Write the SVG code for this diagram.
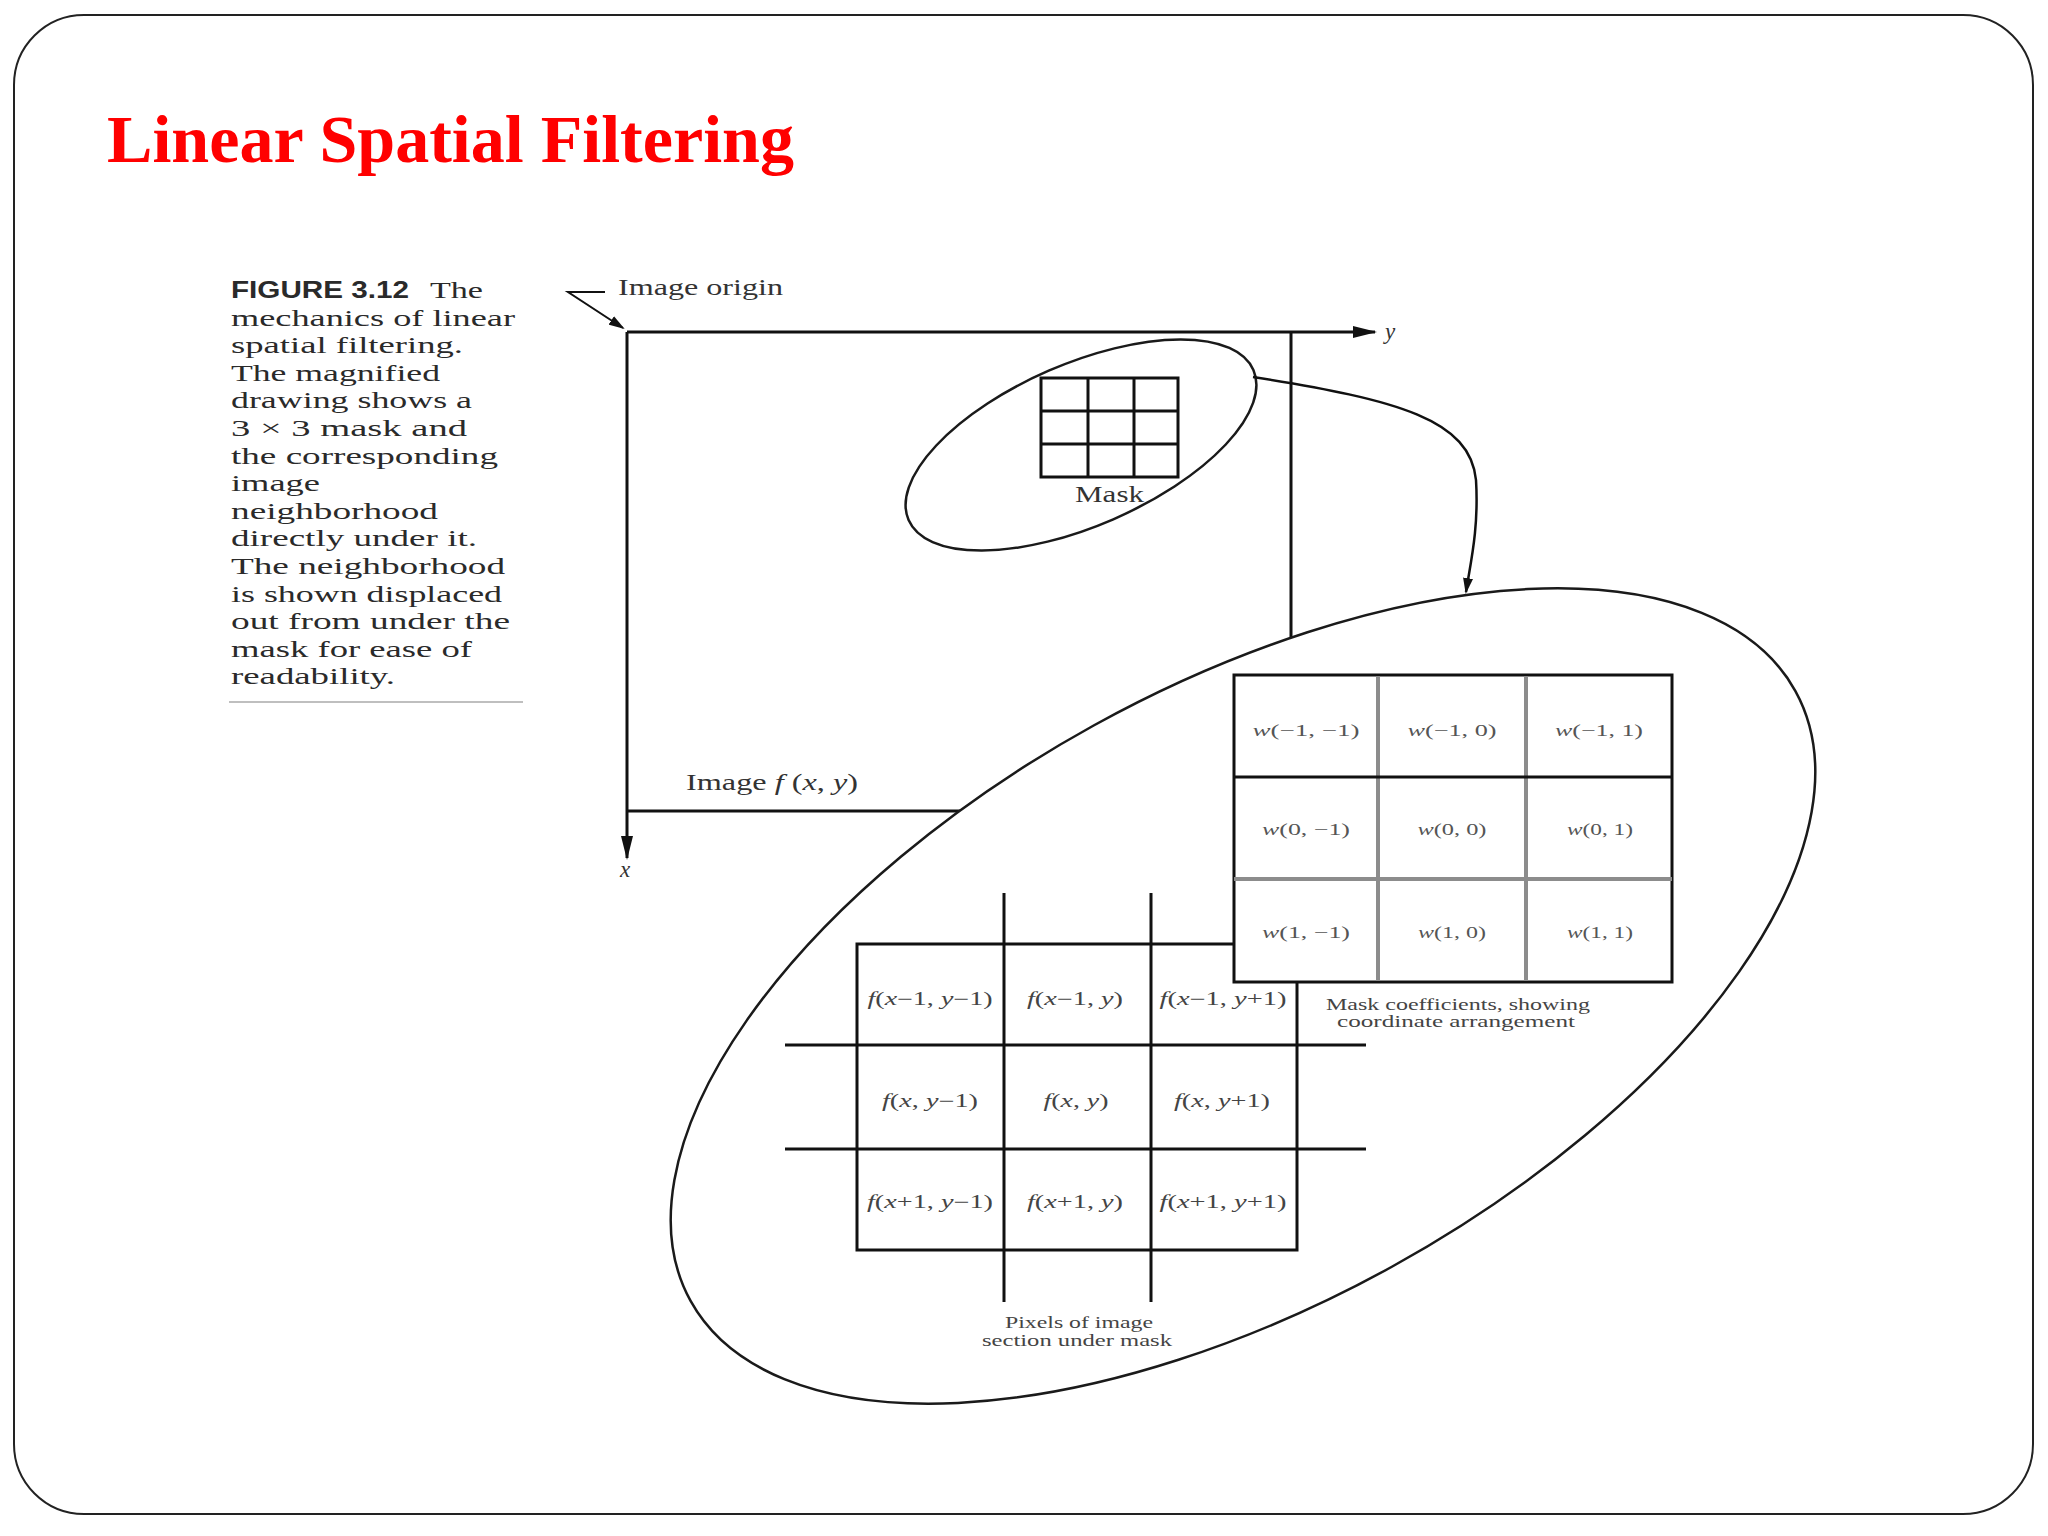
<svg xmlns="http://www.w3.org/2000/svg" width="2048" height="1536" viewBox="0 0 2048 1536">
<defs>
<style>
.cap{font-family:"Liberation Serif",serif;font-size:24px;fill:#2a2a2a;}
.lbl{font-family:"Liberation Serif",serif;font-size:23px;fill:#333;}
.cell{font-family:"Liberation Serif",serif;font-size:17px;fill:#555;text-anchor:middle;}
.pix{font-family:"Liberation Serif",serif;font-size:18px;fill:#444;text-anchor:middle;}
.note{font-family:"Liberation Serif",serif;font-size:16px;fill:#444;text-anchor:middle;}
.it{font-style:italic;}
.ln{stroke:#111;stroke-width:3;fill:none;}
.thin{stroke:#1a1a1a;stroke-width:2.5;}
</style>
<marker id="ah" markerWidth="24" markerHeight="12" refX="22" refY="6" orient="auto" markerUnits="userSpaceOnUse"><path d="M0,0 L24,6 L0,12 z" fill="#111"/></marker>
<marker id="ahs" markerWidth="16" markerHeight="10" refX="14" refY="5" orient="auto" markerUnits="userSpaceOnUse"><path d="M0,0 L16,5 L0,10 z" fill="#111"/></marker>
</defs>
<rect x="0" y="0" width="2048" height="1536" fill="#ffffff"/>
<rect id="frame" x="14" y="15" width="2019" height="1499" rx="70" ry="70" fill="none" stroke="#222" stroke-width="2"/>

<g id="title">
<text x="107" y="162" font-family="'Liberation Serif',serif" font-weight="bold" font-size="68" fill="#ff0000" textLength="687" lengthAdjust="spacingAndGlyphs">Linear Spatial Filtering</text>
</g>

<g id="caption">
<text x="231" y="298" font-family="'Liberation Sans',sans-serif" font-weight="bold" font-size="23" fill="#2a2a2a" textLength="178" lengthAdjust="spacingAndGlyphs">FIGURE 3.12</text>
<text class="cap" x="430" y="298" textLength="53" lengthAdjust="spacingAndGlyphs">The</text>
<text class="cap" x="231" y="325.6" textLength="284" lengthAdjust="spacingAndGlyphs">mechanics of linear</text>
<text class="cap" x="231" y="353.2" textLength="232" lengthAdjust="spacingAndGlyphs">spatial filtering.</text>
<text class="cap" x="231" y="380.8" textLength="209" lengthAdjust="spacingAndGlyphs">The magnified</text>
<text class="cap" x="231" y="408.4" textLength="241" lengthAdjust="spacingAndGlyphs">drawing shows a</text>
<text class="cap" x="231" y="436" textLength="236" lengthAdjust="spacingAndGlyphs">3 × 3 mask and</text>
<text class="cap" x="231" y="463.6" textLength="267" lengthAdjust="spacingAndGlyphs">the corresponding</text>
<text class="cap" x="231" y="491.2" textLength="89" lengthAdjust="spacingAndGlyphs">image</text>
<text class="cap" x="231" y="518.8" textLength="207" lengthAdjust="spacingAndGlyphs">neighborhood</text>
<text class="cap" x="231" y="546.4" textLength="246" lengthAdjust="spacingAndGlyphs">directly under it.</text>
<text class="cap" x="231" y="574" textLength="274" lengthAdjust="spacingAndGlyphs">The neighborhood</text>
<text class="cap" x="231" y="601.6" textLength="271" lengthAdjust="spacingAndGlyphs">is shown displaced</text>
<text class="cap" x="231" y="629.2" textLength="279" lengthAdjust="spacingAndGlyphs">out from under the</text>
<text class="cap" x="231" y="656.8" textLength="241" lengthAdjust="spacingAndGlyphs">mask for ease of</text>
<text class="cap" x="231" y="684.4" textLength="164" lengthAdjust="spacingAndGlyphs">readability.</text>
<line x1="229" y1="702" x2="523" y2="702" stroke="#aaa" stroke-width="1.5"/>
</g>

<g id="image-axes">
<line class="ln" x1="627" y1="332" x2="1375" y2="332" marker-end="url(#ah)"/>
<line class="ln" x1="627" y1="332" x2="627" y2="858" marker-end="url(#ah)"/>
<line class="ln" x1="1291" y1="332" x2="1291" y2="720"/>
<line class="ln" x1="627" y1="811" x2="1010" y2="811"/>
<text class="lbl" x="618" y="295" textLength="165" lengthAdjust="spacingAndGlyphs">Image origin</text>
<text class="lbl it" x="1385" y="339" font-size="24">y</text>
<text class="lbl it" x="620" y="877" font-size="22">x</text>
<text class="lbl" x="686" y="790" textLength="172" lengthAdjust="spacingAndGlyphs">Image <tspan class="it">f</tspan> (<tspan class="it">x</tspan>, <tspan class="it">y</tspan>)</text>
</g>

<g id="mask-ellipse">
<ellipse cx="1081" cy="445" rx="188" ry="81" transform="rotate(-23.5 1081 445)" fill="none" class="thin" stroke="#1a1a1a"/>
<g id="mask-grid">
<rect class="ln" x="1041" y="378" width="137" height="99"/>
<line class="ln" x1="1088" y1="378" x2="1088" y2="477"/>
<line class="ln" x1="1134" y1="378" x2="1134" y2="477"/>
<line class="ln" x1="1041" y1="411" x2="1178" y2="411"/>
<line class="ln" x1="1041" y1="444" x2="1178" y2="444"/>
</g>
<text class="lbl" x="1075" y="502" textLength="69" lengthAdjust="spacingAndGlyphs">Mask</text>
</g>

<g id="zoom-ellipse">
<ellipse cx="1243" cy="996" rx="631" ry="309" transform="rotate(-28.9 1243 996)" fill="#ffffff" stroke="#1a1a1a" stroke-width="2.5"/>
</g>

<g id="pixel-grid">
<rect class="ln" x="857" y="944" width="440" height="306"/>
<line class="ln" x1="1004" y1="893" x2="1004" y2="1302"/>
<line class="ln" x1="1151" y1="893" x2="1151" y2="1302"/>
<line class="ln" x1="785" y1="1045" x2="1366" y2="1045"/>
<line class="ln" x1="785" y1="1149" x2="1366" y2="1149"/>
<text class="pix" x="930" y="1005" textLength="125" lengthAdjust="spacingAndGlyphs"><tspan class="it">f</tspan>(<tspan class="it">x</tspan>−1, <tspan class="it">y</tspan>−1)</text>
<text class="pix" x="1075" y="1005" textLength="96" lengthAdjust="spacingAndGlyphs"><tspan class="it">f</tspan>(<tspan class="it">x</tspan>−1, <tspan class="it">y</tspan>)</text>
<text class="pix" x="1223" y="1005" textLength="127" lengthAdjust="spacingAndGlyphs"><tspan class="it">f</tspan>(<tspan class="it">x</tspan>−1, <tspan class="it">y</tspan>+1)</text>
<text class="pix" x="930" y="1107" textLength="96" lengthAdjust="spacingAndGlyphs"><tspan class="it">f</tspan>(<tspan class="it">x</tspan>, <tspan class="it">y</tspan>−1)</text>
<text class="pix" x="1076" y="1107" textLength="65" lengthAdjust="spacingAndGlyphs"><tspan class="it">f</tspan>(<tspan class="it">x</tspan>, <tspan class="it">y</tspan>)</text>
<text class="pix" x="1222" y="1107" textLength="96" lengthAdjust="spacingAndGlyphs"><tspan class="it">f</tspan>(<tspan class="it">x</tspan>, <tspan class="it">y</tspan>+1)</text>
<text class="pix" x="930" y="1208" textLength="126" lengthAdjust="spacingAndGlyphs"><tspan class="it">f</tspan>(<tspan class="it">x</tspan>+1, <tspan class="it">y</tspan>−1)</text>
<text class="pix" x="1075" y="1208" textLength="96" lengthAdjust="spacingAndGlyphs"><tspan class="it">f</tspan>(<tspan class="it">x</tspan>+1, <tspan class="it">y</tspan>)</text>
<text class="pix" x="1223" y="1208" textLength="127" lengthAdjust="spacingAndGlyphs"><tspan class="it">f</tspan>(<tspan class="it">x</tspan>+1, <tspan class="it">y</tspan>+1)</text>
<text class="note" x="1079" y="1328" textLength="148" lengthAdjust="spacingAndGlyphs">Pixels of image</text>
<text class="note" x="1077" y="1346" textLength="190" lengthAdjust="spacingAndGlyphs">section under mask</text>
</g>

<g id="mask-coefficients">
<rect x="1234" y="675" width="438" height="307" fill="#ffffff" stroke="#111" stroke-width="3"/>
<line x1="1378" y1="676" x2="1378" y2="981" stroke="#8c8c8c" stroke-width="4"/>
<line x1="1526" y1="676" x2="1526" y2="981" stroke="#8c8c8c" stroke-width="4"/>
<line x1="1234" y1="777" x2="1672" y2="777" stroke="#111" stroke-width="3"/>
<line x1="1234" y1="879" x2="1672" y2="879" stroke="#8c8c8c" stroke-width="4"/>
<text class="cell" x="1306" y="736" textLength="107" lengthAdjust="spacingAndGlyphs"><tspan class="it">w</tspan>(−1, −1)</text>
<text class="cell" x="1452" y="736" textLength="89" lengthAdjust="spacingAndGlyphs"><tspan class="it">w</tspan>(−1, 0)</text>
<text class="cell" x="1599" y="736" textLength="88" lengthAdjust="spacingAndGlyphs"><tspan class="it">w</tspan>(−1, 1)</text>
<text class="cell" x="1306" y="835" textLength="88" lengthAdjust="spacingAndGlyphs"><tspan class="it">w</tspan>(0, −1)</text>
<text class="cell" x="1452" y="835" textLength="69" lengthAdjust="spacingAndGlyphs"><tspan class="it">w</tspan>(0, 0)</text>
<text class="cell" x="1600" y="835" textLength="66" lengthAdjust="spacingAndGlyphs"><tspan class="it">w</tspan>(0, 1)</text>
<text class="cell" x="1306" y="938" textLength="88" lengthAdjust="spacingAndGlyphs"><tspan class="it">w</tspan>(1, −1)</text>
<text class="cell" x="1452" y="938" textLength="68" lengthAdjust="spacingAndGlyphs"><tspan class="it">w</tspan>(1, 0)</text>
<text class="cell" x="1600" y="938" textLength="66" lengthAdjust="spacingAndGlyphs"><tspan class="it">w</tspan>(1, 1)</text>
<text class="note" x="1458" y="1010" textLength="264" lengthAdjust="spacingAndGlyphs">Mask coefficients, showing</text>
<text class="note" x="1456" y="1027" textLength="238" lengthAdjust="spacingAndGlyphs">coordinate arrangement</text>
</g>

<g id="connectors">
<path d="M605,292 L568,292 L623,328" fill="none" stroke="#111" stroke-width="2" marker-end="url(#ahs)"/>
<path d="M1253,377 C1400,400 1470,420 1476,480 C1479,530 1470,565 1466,592" fill="none" stroke="#111" stroke-width="2.5" marker-end="url(#ahs)"/>
</g>
</svg>
